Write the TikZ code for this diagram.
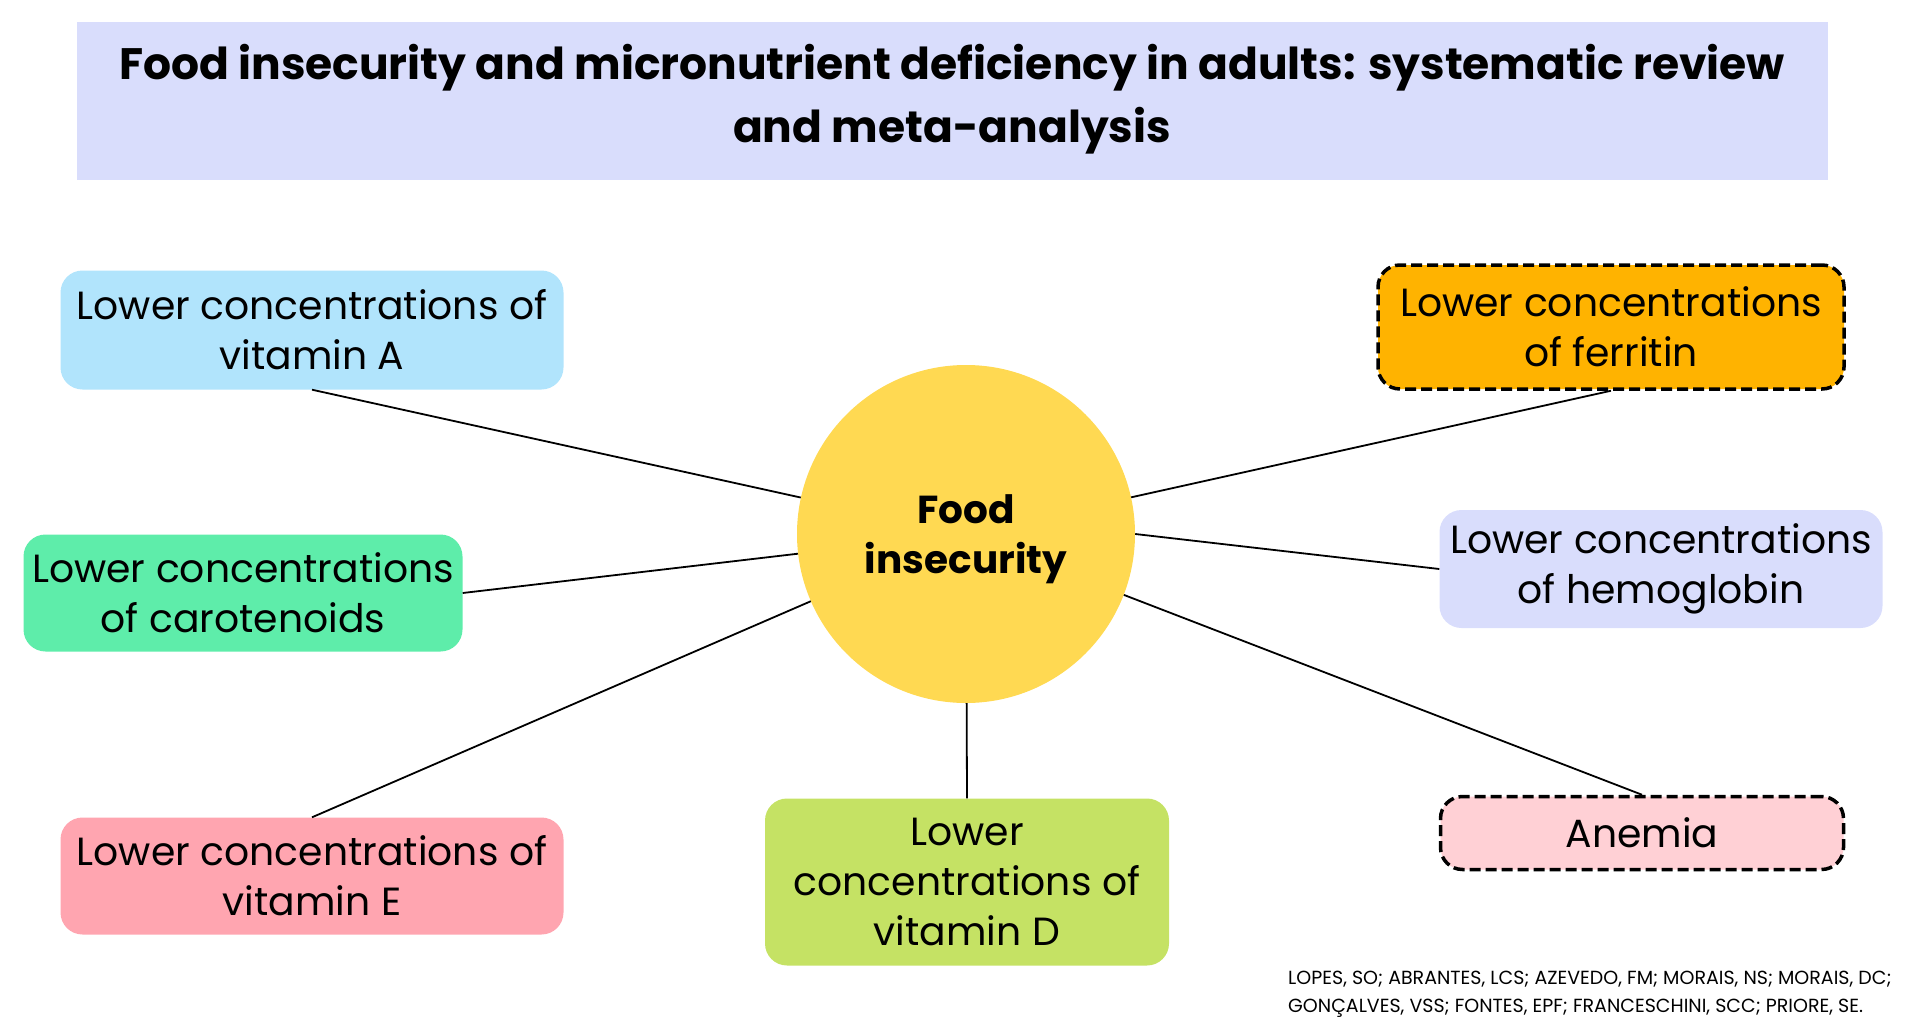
\documentclass[tikz,border=0pt]{standalone}
\usepackage{fontspec}
\setmainfont{Poppins}
\definecolor{titlebg}{RGB}{217,221,252}
\definecolor{sunyellow}{RGB}{255,217,82}
\definecolor{skyblue}{RGB}{177,228,252}
\definecolor{mintgreen}{RGB}{94,237,170}
\definecolor{rosepink}{RGB}{255,165,176}
\definecolor{limegreen}{RGB}{197,226,100}
\definecolor{amber}{RGB}{255,179,0}
\definecolor{lavender}{RGB}{217,221,252}
\definecolor{blush}{RGB}{255,208,213}
\begin{document}
\begin{tikzpicture}[x=1pt, y=-1pt,
    topic/.style={rounded corners=22pt, align=center, inner sep=0pt,
      font=\fontsize{39.3}{50}\selectfont},
    dashtopic/.style={topic, draw=black, line width=3.5pt,
      dash pattern=on 11pt off 5pt},
    spoke/.style={line width=1.8pt}]
  \useasboundingbox (0,0) rectangle (1907,1036);
  \fill[titlebg] (77,22) rectangle (1828,180);
  \node[font=\fontsize{44}{63}\selectfont\bfseries, align=center] (title) at (952,99)
    {Food insecurity and micronutrient deficiency in adults: systematic review\\and meta-analysis};
  \node[circle, fill=sunyellow, minimum size=338pt, inner sep=0pt,
    label={[align=center, yshift=-5pt, font=\fontsize{39}{50}\selectfont\bfseries]center:Food\\insecurity}]
    (fi) at (966,534) {};
  % left side
  \node[topic, fill=skyblue, minimum width=503pt, minimum height=119pt] (vitA) at (312,330)
    {Lower concentrations of\\vitamin A};
  \node[topic, fill=mintgreen, minimum width=439pt, minimum height=117pt] (carot) at (243,593)
    {Lower concentrations\\of carotenoids};
  \node[topic, fill=rosepink, minimum width=503pt, minimum height=117pt] (vitE) at (312,876)
    {Lower concentrations of\\vitamin E};
  \node[topic, fill=limegreen, minimum width=404pt, minimum height=167pt] (vitD) at (967,882)
    {Lower\\concentrations of\\vitamin D};
  % right side
  \node[dashtopic, fill=amber, minimum width=466pt, minimum height=124pt] (ferr) at (1611,327)
    {Lower concentrations\\of ferritin};
  \node[topic, fill=lavender, minimum width=443pt, minimum height=118pt] (hemo) at (1661,569)
    {Lower concentrations\\of hemoglobin};
  \node[dashtopic, fill=blush, minimum width=403pt, minimum height=73pt] (anem) at (1642,833)
    {Anemia};
  \draw[spoke] (fi) -- (vitA.south);
  \draw[spoke] (fi) -- (carot.east);
  \draw[spoke] (fi) -- (vitE.north);
  \draw[spoke] (fi) -- (vitD.north);
  \draw[spoke] (fi) -- (ferr.south);
  \draw[spoke] (fi.east) -- (hemo.west);
  \draw[spoke] (fi) -- (anem.north);
  \node[anchor=base west, align=left, inner sep=0pt,
    font=\fontsize{19}{28}\selectfont] (cite) at (1288,1012)
    {LOPES, SO; ABRANTES, LCS; AZEVEDO, FM; MORAIS, NS; MORAIS, DC;\\
     GONÇALVES, VSS; FONTES, EPF; FRANCESCHINI, SCC; PRIORE, SE.};
\end{tikzpicture}
\end{document}
